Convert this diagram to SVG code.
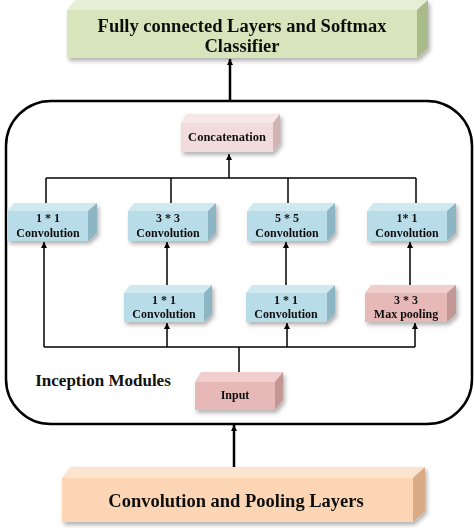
<svg xmlns="http://www.w3.org/2000/svg" width="474" height="528" viewBox="0 0 474 528">
<defs>
<style>
text{font-family:"Liberation Serif","Times New Roman",serif;font-weight:bold;fill:#111;text-anchor:middle}
.t12{font-size:12px}
.conn line{stroke:#000;stroke-width:1.5;fill:none}
.conn .thick{stroke-width:2.5}
.arr{marker-end:url(#ah)}
.green .f{fill:#d8e4bc}.green .tp{fill:#e6eed5}.green .sd{fill:#a9ba8b}
.blue .f{fill:#b9dde8}.blue .tp{fill:#d0e9f1}.blue .sd{fill:#8db6c4}
.lpink .f{fill:#f2dcdb}.lpink .tp{fill:#f7e8e7}.lpink .sd{fill:#d2b3b2}
.pink .f{fill:#e6b9b8}.pink .tp{fill:#efcecd}.pink .sd{fill:#c39796}
.peach .f{fill:#fcd5b4}.peach .tp{fill:#fde4ce}.peach .sd{fill:#d8aa86}
.box{filter:url(#sh)}
</style>
<filter id="sh" x="-10%" y="-20%" width="130%" height="150%">
<feDropShadow dx="2" dy="3" stdDeviation="2" flood-color="#000" flood-opacity="0.3"/>
</filter>
<marker id="ah" viewBox="0 0 6 6" refX="6" refY="3" markerWidth="6" markerHeight="6" markerUnits="userSpaceOnUse" orient="auto">
<path d="M0,0 L6,3 L0,6 z" fill="#000"/>
</marker>
</defs>
<rect width="474" height="528" fill="#fff"/>

<rect id="inception-frame" x="6" y="101" width="466" height="323" rx="45" ry="45" fill="none" stroke="#000" stroke-width="2.5"/>
<text x="103" y="386" style="font-size:17px">Inception Modules</text>

<g class="conn">
<line class="thick arr" x1="230" y1="101" x2="230" y2="59"/>
<line class="thick arr" x1="234" y1="467" x2="234" y2="425"/>
<line x1="229" y1="178" x2="229" y2="154" class="arr"/>
<line x1="46" y1="178" x2="416" y2="178"/>
<line x1="46" y1="178" x2="46" y2="203"/>
<line x1="171" y1="178" x2="171" y2="203"/>
<line x1="288" y1="178" x2="288" y2="203"/>
<line x1="416" y1="178" x2="416" y2="203"/>
<line x1="167" y1="285" x2="167" y2="242" class="arr"/>
<line x1="286" y1="285" x2="286" y2="242" class="arr"/>
<line x1="410" y1="285" x2="410" y2="242" class="arr"/>
<line x1="44" y1="347" x2="415" y2="347"/>
<line x1="44" y1="347" x2="44" y2="242" class="arr"/>
<line x1="167" y1="347" x2="167" y2="323" class="arr"/>
<line x1="287" y1="347" x2="287" y2="323" class="arr"/>
<line x1="415" y1="347" x2="415" y2="323" class="arr"/>
<line x1="239" y1="347" x2="239" y2="372"/>
</g>

<g id="fc-softmax" class="box green">
<polygon class="tp" points="67,10 417,10 428,0 75,0"/>
<polygon class="sd" points="417,10 428,0 428,48 417,58"/>
<rect class="f" x="67" y="10" width="350" height="48"/>
<text x="242" y="32" style="font-size:18.5px">Fully connected Layers and Softmax</text>
<text x="242" y="52" style="font-size:18.5px">Classifier</text>
</g>

<g id="concatenation" class="box lpink">
<polygon class="tp" points="181,123 273,123 280,114 186,114"/>
<polygon class="sd" points="273,123 280,114 280,143 273,152"/>
<rect class="f" x="181" y="123" width="92" height="29"/>
<text x="227" y="141" style="font-size:12.5px">Concatenation</text>
</g>

<g id="conv1x1-a" class="box blue">
<polygon class="tp" points="7,211 88,211 97,203 14,203"/>
<polygon class="sd" points="88,211 97,203 97,233 88,241"/>
<rect class="f" x="7" y="211" width="81" height="30"/>
<text class="t12" x="48" y="222">1 * 1</text>
<text class="t12" x="48" y="237">Convolution</text>
</g>

<g id="conv3x3" class="box blue">
<polygon class="tp" points="128,211 208,211 216,203 134,203"/>
<polygon class="sd" points="208,211 216,203 216,233 208,241"/>
<rect class="f" x="128" y="211" width="80" height="30"/>
<text class="t12" x="168" y="222">3 * 3</text>
<text class="t12" x="168" y="237">Convolution</text>
</g>

<g id="conv5x5" class="box blue">
<polygon class="tp" points="247,211 327,211 335,203 253,203"/>
<polygon class="sd" points="327,211 335,203 335,233 327,241"/>
<rect class="f" x="247" y="211" width="80" height="30"/>
<text class="t12" x="287" y="222">5 * 5</text>
<text class="t12" x="287" y="237">Convolution</text>
</g>

<g id="conv1x1-d" class="box blue">
<polygon class="tp" points="367,211 447,211 456,203 373,203"/>
<polygon class="sd" points="447,211 456,203 456,233 447,241"/>
<rect class="f" x="367" y="211" width="80" height="30"/>
<text class="t12" x="407" y="222">1* 1</text>
<text class="t12" x="407" y="237">Convolution</text>
</g>

<g id="conv1x1-b" class="box blue">
<polygon class="tp" points="124,293 204,293 212,285 130,285"/>
<polygon class="sd" points="204,293 212,285 212,314 204,322"/>
<rect class="f" x="124" y="293" width="80" height="29"/>
<text class="t12" x="164" y="304">1 * 1</text>
<text class="t12" x="164" y="318">Convolution</text>
</g>

<g id="conv1x1-c" class="box blue">
<polygon class="tp" points="246,293 327,293 335,285 252,285"/>
<polygon class="sd" points="327,293 335,285 335,314 327,322"/>
<rect class="f" x="246" y="293" width="81" height="29"/>
<text class="t12" x="286" y="304">1 * 1</text>
<text class="t12" x="286" y="318">Convolution</text>
</g>

<g id="maxpool3x3" class="box pink">
<polygon class="tp" points="365,293 447,293 456,285 371,285"/>
<polygon class="sd" points="447,293 456,285 456,314 447,322"/>
<rect class="f" x="365" y="293" width="82" height="29"/>
<text class="t12" x="406" y="304">3 * 3</text>
<text class="t12" x="406" y="318">Max pooling</text>
</g>

<g id="input" class="box pink">
<polygon class="tp" points="195,382 275,382 283,372 201,372"/>
<polygon class="sd" points="275,382 283,372 283,400 275,410"/>
<rect class="f" x="195" y="382" width="80" height="28"/>
<text class="t12" x="235" y="399">Input</text>
</g>

<g id="conv-pooling" class="box peach">
<polygon class="tp" points="62,478 413,478 425,467 70,467"/>
<polygon class="sd" points="413,478 425,467 425,511 413,522"/>
<rect class="f" x="62" y="478" width="351" height="44"/>
<text x="236" y="507" style="font-size:18.5px">Convolution and Pooling Layers</text>
</g>
</svg>
